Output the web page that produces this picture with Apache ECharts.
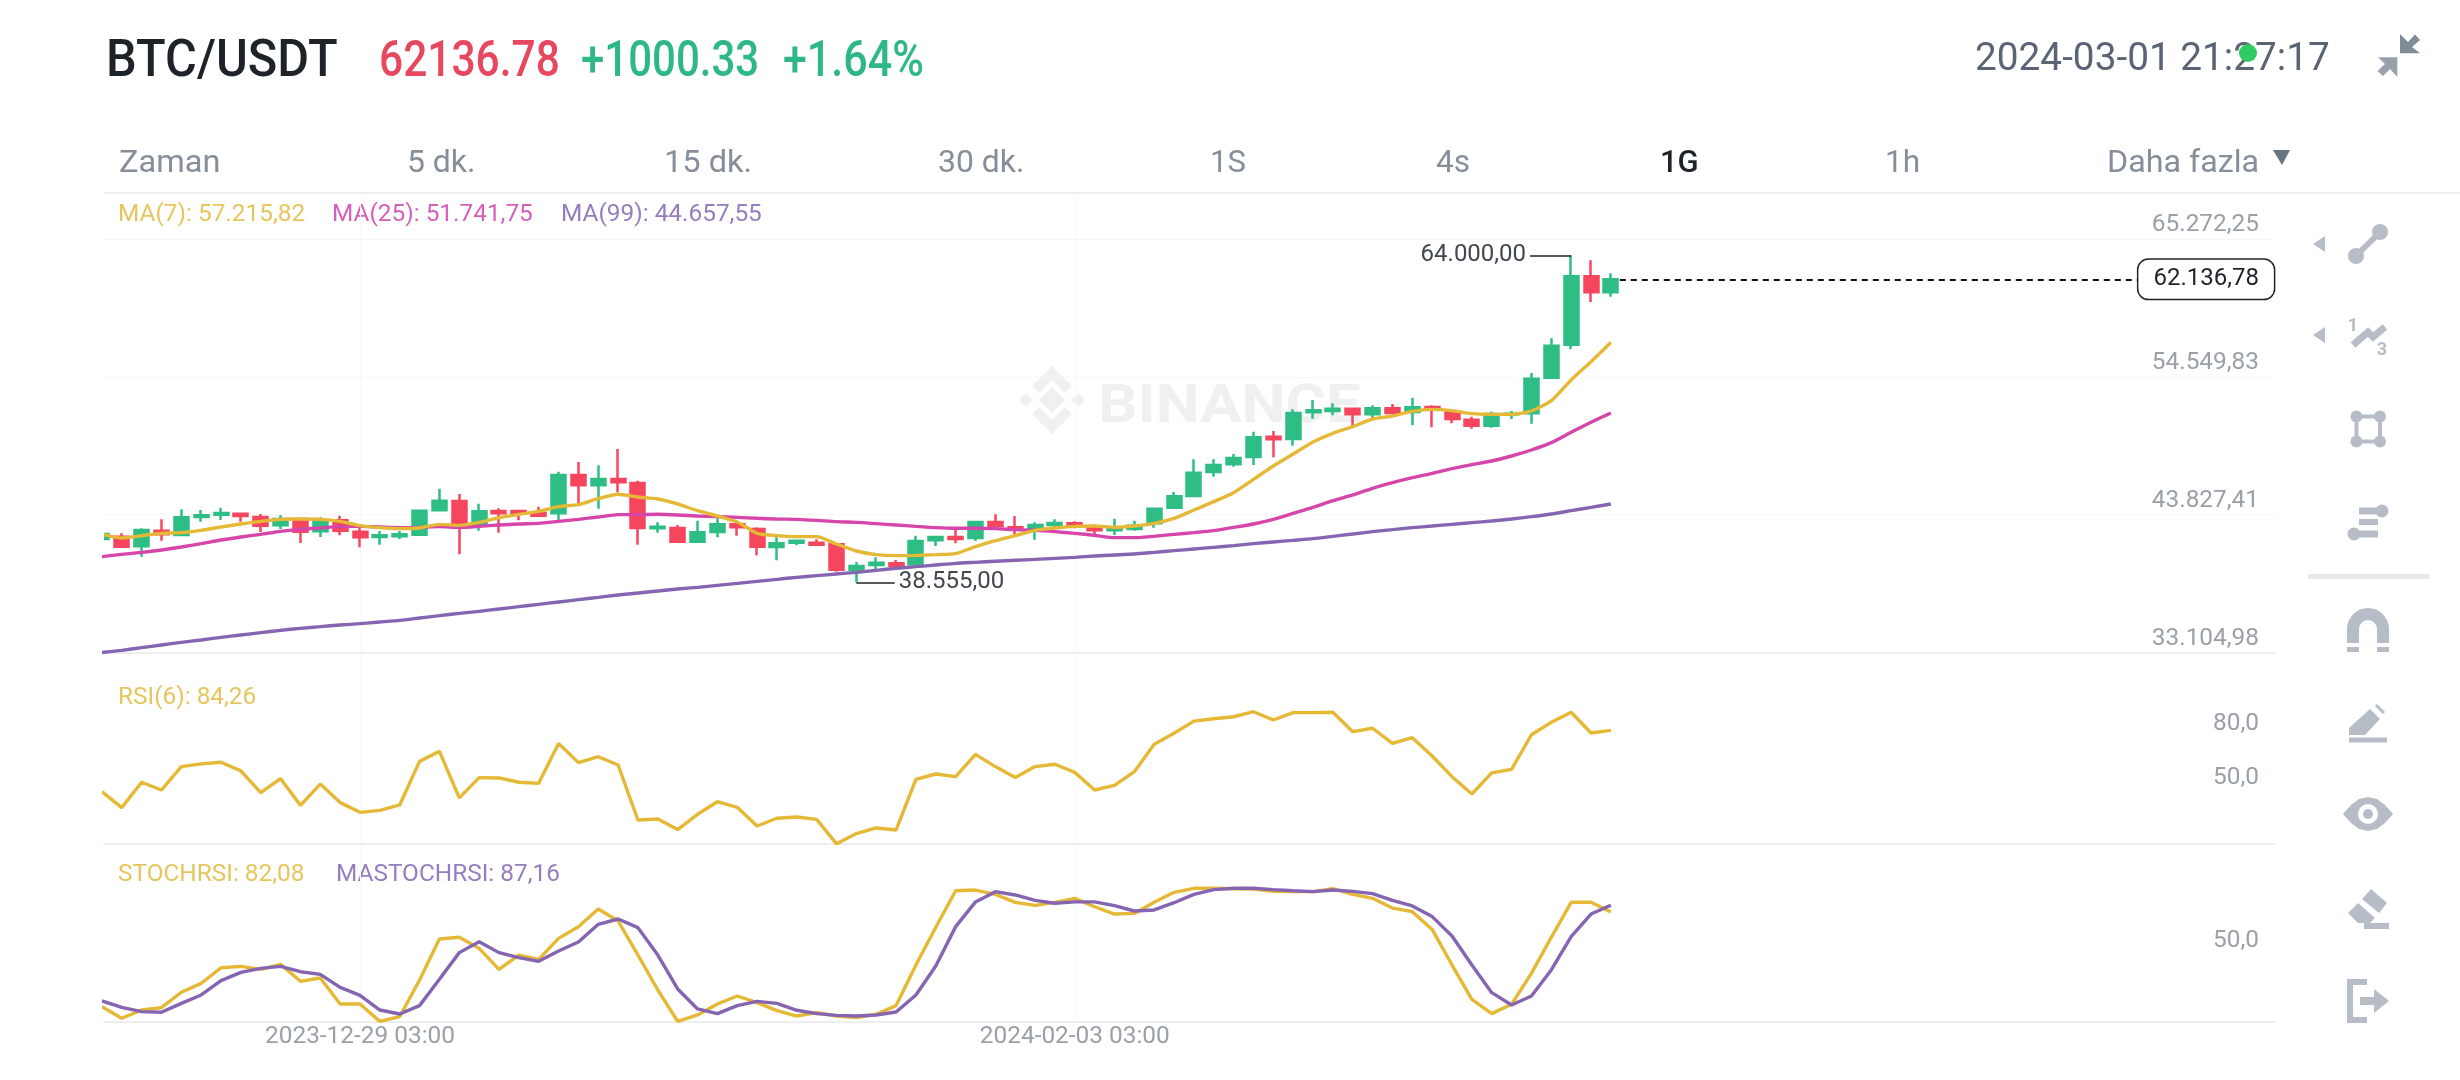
<!DOCTYPE html>
<html>
<head>
<meta charset="utf-8">
<title>BTC/USDT</title>
<script src="https://cdn.jsdelivr.net/npm/echarts@6/dist/echarts.min.js"></script>
<style>
html, body { margin: 0; padding: 0; background: #fff; }
#main { width: 2460px; height: 1080px; }
</style>
</head>
<body>
<div id="main"></div>
<script>
const opens = [41935,42118,41365,42583,42246,43646,43828,43906,43646,42998,
    43491,42531,43387,42505,42091,42143,42272,44165,44891,43024,
    44113,44113,43958,43932,46914,46110,46602,46291,42765,42791,
    41727,42480,43076,42713,41313,41650,41650,41520,39549,39913,
    40042,39964,41831,42091,42013,43257,42842,42687,43024,43154,
    42920,42609,42713,43154,44372,45280,47147,47743,48313,49895,
    49714,51788,51892,52073,51633,52099,51815,52203,51788,51218,
    50751,51633,51711,54485,57052,62368,61123];
const closes = [42324,41339,42635,42298,43620,43776,43958,43724,42972,43491,
    42505,43283,42583,42065,42220,42298,44139,44917,43102,44087,
    43932,43958,43750,46914,46110,46602,46343,42791,42894,41727,
    42454,43076,42842,41339,41598,41805,41494,39549,39835,40094,
    39835,41779,42091,41935,43257,42946,42713,43024,43180,42972,
    42609,42739,42972,44295,45254,47095,47691,48236,49843,49688,
    51736,51944,52073,51633,52099,51736,52177,52021,51270,50751,
    51658,51684,54407,56974,62368,61123,62136.78];
const lows = [41935,41261,40561,41805,42194,43283,43413,43283,42480,42713,
    41624,42091,42220,41287,41494,41935,42220,44165,40742,42583,
    42428,43387,43646,43361,44736,44295,45565,41494,42428,41727,
    41727,42065,42194,40664,40276,41442,41494,39394,38555,39524,
    39653,39783,41390,41598,41779,42739,42246,41883,42765,42765,
    42246,42246,42583,42817,44372,45228,46784,47562,47691,48288,
    49195,51296,51555,50673,51296,51658,50777,50621,50933,50518,
    50596,51270,50907,54485,56689,60371,60786];
const highs = [42376,42376,42765,43465,44243,44191,44372,43906,43880,43776,
    43491,43620,43750,42842,42557,42557,44139,45850,45436,44684,
    44320,44191,44450,47173,47925,47666,48936,46473,43231,43024,
    43361,43543,43076,42842,42117,41805,41909,41598,40146,40509,
    40301,42194,42143,42765,43257,43854,43724,43231,43465,43309,
    43050,43517,43361,44295,45591,48132,48132,48547,50285,50336,
    52021,52748,52488,52073,52333,52437,52929,52333,52021,51451,
    51840,51892,54848,57545,64000,63612,62601];
const ma7 = [42298,42013,42194,42376,42428,42609,42868,43102,43309,43465,
    43491,43465,43309,42972,42817,42739,42791,43076,42998,43231,
    43595,43854,44087,44450,44606,45072,45410,45202,45047,44658,
    44139,43724,43257,42376,42194,42117,42117,41546,41002,40716,
    40638,40664,40716,40794,41339,41805,42194,42609,42791,42920,
    42946,42842,42946,43154,43542,44191,44839,45539,46576,47614,
    48547,49481,50155,50673,51270,51503,51866,52021,51918,51684,
    51633,51633,51892,52696,54304,55730,57215.82];
const ma25 = [40561,40742,40898,41079,41313,41572,41857,42091,42298,42531,
    42687,42791,42894,42920,42868,42817,42842,42894,42842,42920,
    43024,43102,43154,43309,43465,43646,43828,43828,43854,43802,
    43724,43672,43620,43543,43491,43465,43387,43283,43231,43128,
    43024,42920,42817,42765,42765,42739,42661,42609,42505,42376,
    42220,42039,42039,42142,42298,42427,42583,42842,43102,43465,
    43931,44398,44917,45358,45876,46317,46706,47043,47406,47717,
    48002,48391,48858,49429,50232,51010,51741.75];
const ma99 = [33110,33274,33482,33689,33897,34078,34286,34467,34649,34830,
    34986,35115,35245,35349,35478,35608,35790,35971,36153,36308,
    36490,36671,36853,37034,37216,37397,37579,37735,37890,38046,
    38175,38331,38486,38642,38797,38953,39083,39212,39342,39498,
    39653,39783,39912,40042,40120,40198,40276,40353,40431,40509,
    40613,40690,40768,40898,41027,41157,41287,41416,41572,41702,
    41831,41961,42142,42324,42505,42661,42816,42946,43076,43205,
    43335,43490,43672,43880,44139,44398,44657.55];
const rsi6 = [50.2,41.3,55.4,51.1,64.1,65.6,66.5,61.7,49.6,57.4,
    42.6,54.4,44.1,38.7,39.8,42.8,67.0,72.6,46.7,58.0,
    57.8,55.4,54.8,77.0,66.3,69.6,65.0,34.4,35.0,29.1,
    37.6,44.6,41.5,31.1,35.4,36.1,34.8,21.2,26.9,30.0,
    28.9,57.0,60.0,58.5,70.9,64.1,58.0,64.1,65.4,60.9,
    51.1,53.7,61.3,76.5,82.6,89.4,90.7,91.8,94.6,90.0,
    94.1,94.1,94.3,83.5,85.4,77.0,80.2,70.0,58.5,48.9,
    60.6,62.6,81.8,88.7,94.3,82.8,84.26];
const stochRsi = [11.1,2.4,8.6,10.4,21.9,28.6,40.3,41.3,39.1,42.8,
    30.1,32.6,13.1,13.1,0.1,3.6,31.1,61.8,63.1,54.8,
    39.1,49.8,46.6,62.3,71.0,84.3,75.3,49.8,23.6,0.1,
    4.9,13.1,19.1,14.1,8.1,4.1,6.6,4.1,2.9,5.4,
    11.9,42.3,70.6,98.0,98.5,95.3,89.3,87.0,89.3,92.3,
    86.0,80.5,81.0,89.3,96.8,99.8,99.8,99.5,99.3,97.5,
    97.3,97.3,99.5,95.3,92.3,85.0,82.3,69.0,42.3,16.6,
    5.9,12.9,36.1,63.1,89.3,89.3,82.08];
const maStochRsi = [15.4,10.6,7.4,6.9,13.6,19.9,30.6,36.8,39.8,41.3,
    37.3,35.3,25.6,19.6,8.6,5.6,11.9,31.6,51.6,59.8,
    51.6,47.9,45.1,52.8,59.6,72.8,76.8,70.3,49.8,24.4,
    9.4,5.9,11.9,15.1,13.6,8.4,5.9,4.6,4.1,4.9,
    7.1,19.9,41.6,71.1,89.6,97.3,94.8,90.8,88.6,89.6,
    89.6,86.8,82.8,83.6,89.0,95.3,98.8,99.8,99.8,98.8,
    98.0,97.3,98.5,97.5,95.8,90.8,86.6,78.6,64.1,42.3,
    21.6,12.4,19.1,38.6,63.6,80.5,87.16];

const priceTicks = [33104.98, 43827.41, 54549.83, 65272.25];
const rsiTicks = [50, 80];
const stochTicks = [50];
const timeTicks = [13, 49];
const timeLabels = ["2023-12-29 03:00", "2024-02-03 03:00"];
const tabLabels = ["Zaman", "5 dk.", "15 dk.", "30 dk.", "1S", "4s", "1G", "1h", "Daha fazla"];

const UP = "#2ebd85";
const DOWN = "#f6465d";
const YELLOW = "#e5b835";
const PINK = "#d645aa";
const PURPLE = "#8565b2";
const AXISTEXT = "#9aa0a8";
const ICON = "#b7bdc6";

// turkish number format, 62136.78 -> 62.136,78
function trnum(v, digits) {
    let parts = v.toFixed(digits).split(".");
    return parts[0].replace(/\B(?=(\d{3})+$)/g, ".") + "," + parts[1];
}

function withindex(values) {
    return values.map(function (v, i) { return [i, v]; });
}

function txt(text, x, y, size, color, align, weight, sx) {
    return {
        type: "text", x: x, y: y, scaleX: sx || 1, silent: true,
        style: {
            text: text, x: 0, y: 0, fill: color, align: align || "left", verticalAlign: "middle",
            font: (weight || 400) + " " + size + "px Roboto"
        }
    };
}

function poly(points, color) {
    return { type: "polygon", silent: true, shape: { points: points }, style: { fill: color } };
}

function dot(cx, cy, r, color) {
    return { type: "circle", silent: true, shape: { cx: cx, cy: cy, r: r }, style: { fill: color } };
}

function bar(x1, y1, x2, y2, w, color) {
    return { type: "line", silent: true, shape: { x1: x1, y1: y1, x2: x2, y2: y2 }, style: { stroke: color, lineWidth: w } };
}

function box(x, y, w, h, color) {
    return { type: "rect", silent: true, shape: { x: x, y: y, width: w, height: h }, style: { fill: color } };
}

function icongroup(cy, children) {
    return { type: "group", x: 2368, y: cy, silent: true, children: children };
}

let graphics = [
    txt("BTC/USDT", 106, 63, 51, "#1e2329", "left", 500, 0.955),
    txt("62136.78", 379, 63, 50, "#e8485f", "left", 500, 0.85),
    txt("+1000.33", 581, 63, 50, "#2eb886", "left", 500, 0.84),
    txt("+1.64%", 783, 63, 50, "#2eb886", "left", 500, 0.86),
    txt("2024-03-01 21:27:17", 1975, 60, 38, "#5a6474", "left", 400, 1.02),
    dot(2248, 53, 9, "#2ecc63"),
    poly([[2400, 34], [2408, 42], [2415, 34.5], [2420, 40], [2412, 47], [2420, 53.3], [2400, 53.3]], "#808b98"),
    poly([[2378, 57.3], [2397.3, 57.3], [2397.3, 76.7], [2390, 69], [2383, 76], [2377.5, 71], [2385, 64]], "#98a1ac"),

    txt(tabLabels[0], 119, 164, 31, "#858e9a", "left", 400, 1.05),
    txt(tabLabels[1], 407, 164, 31, "#858e9a", "left", 400, 1.03),
    txt(tabLabels[2], 664, 164, 31, "#858e9a", "left", 400, 1.05),
    txt(tabLabels[3], 938, 164, 31, "#858e9a", "left", 400, 1.03),
    txt(tabLabels[4], 1228, 164, 31, "#858e9a", "center", 400, 1),
    txt(tabLabels[5], 1436, 164, 31, "#858e9a", "left", 400, 1.02),
    txt(tabLabels[6], 1660, 164, 31, "#1e2329", "left", 500, 1),
    txt(tabLabels[7], 1885, 164, 31, "#858e9a", "left", 400, 1.02),
    txt(tabLabels[8], 2107, 164, 31, "#858e9a", "left", 400, 1.04),
    poly([[2273, 150], [2290, 150], [2282, 165]], "#6a7380"),
    bar(104, 193, 2460, 193, 2, "#eeeeee"),

    txt("MA(7): " + trnum(57215.82, 2), 118, 215, 24.4, "#e6c65c"),
    txt("MA(25): " + trnum(51741.75, 2), 332, 215, 24.4, "#d65fb8"),
    txt("MA(99): " + trnum(44657.55, 2), 561, 215, 24.4, "#957dbe"),
    txt("RSI(6): " + trnum(84.26, 2), 118, 698, 24.4, "#e6c65c"),
    txt("STOCHRSI: " + trnum(82.08, 2), 118, 875, 24.4, "#e6c65c"),
    txt("MASTOCHRSI: " + trnum(87.16, 2), 336, 875, 24.4, "#957dbe"),

    // watermark
    { type: "group", x: 1052, y: 400, silent: true, children: [
        poly([[0, -13], [13, 0], [0, 13], [-13, 0]], "#eff0f1"),
        poly([[-26, -7], [-19, 0], [-26, 7], [-33, 0]], "#eff0f1"),
        poly([[26, -7], [33, 0], [26, 7], [19, 0]], "#eff0f1"),
        poly([[0, -34], [20, -14], [13, -7], [0, -20], [-13, -7], [-20, -14]], "#eff0f1"),
        poly([[0, 34], [20, 14], [13, 7], [0, 20], [-13, 7], [-20, 14]], "#eff0f1")
    ] },
    txt("BINANCE", 1098, 409, 53, "#eff0f1", "left", 700, 1.17),

    // the first candle is cut by the left edge of the pane
    { type: "rect", silent: true, z: 100, shape: { x: 80, y: 400, width: 24, height: 150 }, style: { fill: "#ffffff" } },

    // toolbar
    poly([[2313, 244], [2325, 236], [2325, 252]], ICON),
    poly([[2313, 335], [2325, 327], [2325, 343]], ICON),
    icongroup(244, [bar(-12, 12, 12, -12, 6, ICON), dot(-12, 12, 8, ICON), dot(12, -12, 8, ICON)]),
    icongroup(336, [
        { type: "polyline", silent: true, shape: { points: [[-15, 9], [0, -4], [5, 1], [17, -9]] }, style: { stroke: ICON, lineWidth: 7, fill: null } },
        txt("1", -15, -10, 18, ICON, "center", 700),
        txt("3", 14, 14, 18, ICON, "center", 700)
    ]),
    icongroup(429, [
        { type: "rect", silent: true, shape: { x: -11.5, y: -12.5, width: 23.5, height: 25 }, style: { stroke: ICON, lineWidth: 4, fill: null } },
        dot(-11.5, -12.5, 6, ICON), dot(12, -12.5, 6, ICON), dot(-11.5, 12.5, 6, ICON), dot(12, 12.5, 6, ICON)
    ]),
    icongroup(522, [
        bar(-9, -11, 12, -11, 7, ICON), bar(-9, 0, 10, 0, 6, ICON), bar(-14, 12, 10, 12, 7, ICON),
        dot(14, -11, 6.5, ICON), dot(-14, 12, 6.5, ICON)
    ]),
    box(2308, 574, 121, 5, "#e6e8ec"),
    icongroup(631, [
        { type: "arc", silent: true, shape: { cx: 0, cy: -2, r: 15, startAngle: Math.PI, endAngle: 0, clockwise: true }, style: { stroke: ICON, lineWidth: 12, fill: null } },
        box(-21, -2, 12, 14, ICON),
        box(9, -2, 12, 14, ICON),
        box(-21, 16, 12, 5, ICON),
        box(9, 16, 12, 5, ICON)
    ]),
    icongroup(723, [
        poly([[-19, 5], [2, -14], [12, -4], [-3, 12], [-19, 12]], ICON),
        bar(-19, 17, 19, 17, 5, ICON),
        bar(8, -18, 16, -10, 3, ICON)
    ]),
    icongroup(814, [
        poly([[-25, 0], [-17, -9], [-9, -15], [0, -17], [9, -15], [17, -9], [25, 0], [17, 9], [9, 15], [0, 17], [-9, 15], [-17, 9]], ICON),
        dot(0, 0, 10, "#ffffff"),
        dot(0, 0, 5, ICON)
    ]),
    icongroup(909, [
        poly([[-20, 4], [-10, -6], [7, 9], [2, 14], [-10, 14]], ICON),
        poly([[-6, -10], [3, -20], [19, -6], [11, 4]], ICON),
        bar(-4, 17, 21, 17, 6, ICON)
    ]),
    icongroup(1001, [
        { type: "polyline", silent: true, shape: { points: [[-1, -19], [-18, -19], [-18, 19], [-1, 19]] }, style: { stroke: ICON, lineWidth: 6, fill: null } },
        poly([[-8, -4], [6, -4], [6, -12], [21, 0], [6, 12], [6, 4], [-8, 4]], ICON)
    ])
];

function paneaxis(index, min, max, ticks, digits, showgrid) {
    return {
        type: "value", gridIndex: index, position: "right", min: min, max: max, scale: true,
        axisLine: { show: false },
        axisTick: { show: false, customValues: ticks },
        splitLine: { show: showgrid, lineStyle: { color: "#f7f7f7", width: 1 } },
        axisLabel: {
            inside: true, margin: 16, color: AXISTEXT, fontSize: 24.4, fontFamily: "Roboto",
            verticalAlign: "bottom", lineHeight: 26, padding: [0, 0, 1, 0],
            customValues: ticks,
            formatter: function (v) { return trnum(v, digits); }
        }
    };
}

function timeaxis(index, showlabel) {
    return {
        type: "value", gridIndex: index, min: 0.106, max: 109.45, scale: true,
        axisLine: { show: true, onZero: false, lineStyle: { color: "#eeeeee", width: 2 } },
        axisTick: { show: false, customValues: timeTicks },
        splitLine: { show: true, lineStyle: { color: "#f9f9f9", width: 1 } },
        axisLabel: {
            show: showlabel, color: AXISTEXT, fontSize: 24.4, fontFamily: "Roboto", margin: 3,
            customValues: timeTicks,
            formatter: function (v) { return timeLabels[timeTicks.indexOf(v)]; }
        }
    };
}

function lineseries(name, values, color, axis, smooth) {
    return {
        name: name, type: "line", data: withindex(values), xAxisIndex: axis, yAxisIndex: axis,
        showSymbol: false, smooth: smooth, z: 5, lineStyle: { color: color, width: 3.4 }
    };
}

const lastIndex = closes.length - 1;
const lastClose = closes[lastIndex];
const highest = Math.max.apply(null, highs);
const lowest = Math.min.apply(null, lows);

const option = {
    animation: false,
    backgroundColor: "#ffffff",
    graphic: graphics,
    grid: [
        { left: 104, width: 2171, top: 193, height: 459.5 },
        { left: 104, width: 2171, top: 652.5, height: 191.5 },
        { left: 104, width: 2171, top: 844, height: 177.5 }
    ],
    xAxis: [timeaxis(0, false), timeaxis(1, false), timeaxis(2, true)],
    yAxis: [
        paneaxis(0, 33104.98, 68850.6, priceTicks, 2, true),
        paneaxis(1, 21.1, 127.5, rsiTicks, 1, false),
        paneaxis(2, 0, 133, stochTicks, 1, false)
    ],
    series: [
        {
            name: "BTC/USDT", type: "candlestick", xAxisIndex: 0, yAxisIndex: 0, barWidth: 14.5,
            encode: { x: 0, y: [1, 2, 3, 4] },
            data: opens.map(function (o, i) { return [i, o, closes[i], lows[i], highs[i]]; }),
            itemStyle: { color: UP, color0: DOWN, borderColor: UP, borderColor0: DOWN, borderWidth: 2.5 },
            markLine: {
                silent: true, symbol: "none", animation: false,
                data: [
                    [
                        {
                            coord: [lastIndex + 0.45, lastClose],
                            lineStyle: { color: "#111111", type: [6, 5], width: 1.8 },
                            label: {
                                position: "end", distance: 0, color: "#1e2329", fontSize: 24, fontFamily: "Roboto",
                                backgroundColor: "#ffffff", borderColor: "#222222", borderWidth: 1.5, borderRadius: 10,
                                padding: [8, 15, 7, 15], formatter: trnum(lastClose, 2)
                            }
                        },
                        { coord: [102.57, lastClose] }
                    ],
                    [
                        {
                            coord: [closes.indexOf(62368), highest],
                            lineStyle: { color: "#222222", type: "solid", width: 1.5 },
                            label: { position: "end", distance: 4, color: "#40474f", fontSize: 24, fontFamily: "Roboto", formatter: trnum(highest, 2) }
                        },
                        { coord: [closes.indexOf(62368) - 2.07, highest] }
                    ],
                    [
                        {
                            coord: [lows.indexOf(lowest), lowest],
                            lineStyle: { color: "#222222", type: "solid", width: 1.5 },
                            label: { position: "end", distance: 4, padding: [2, 0, 0, 0], color: "#40474f", fontSize: 24, fontFamily: "Roboto", formatter: trnum(lowest, 2) }
                        },
                        { coord: [lows.indexOf(lowest) + 1.93, lowest] }
                    ]
                ]
            }
        },
        lineseries("MA(99)", ma99, PURPLE, 0, 0.2),
        lineseries("MA(25)", ma25, PINK, 0, 0.2),
        lineseries("MA(7)", ma7, YELLOW, 0, 0.2),
        lineseries("RSI(6)", rsi6, YELLOW, 1, false),
        lineseries("STOCHRSI", stochRsi, YELLOW, 2, false),
        lineseries("MASTOCHRSI", maStochRsi, PURPLE, 2, false)
    ]
};

var chartobj = echarts.init(document.getElementById("main"));
chartobj.setOption(option);
</script>
</body>
</html>
